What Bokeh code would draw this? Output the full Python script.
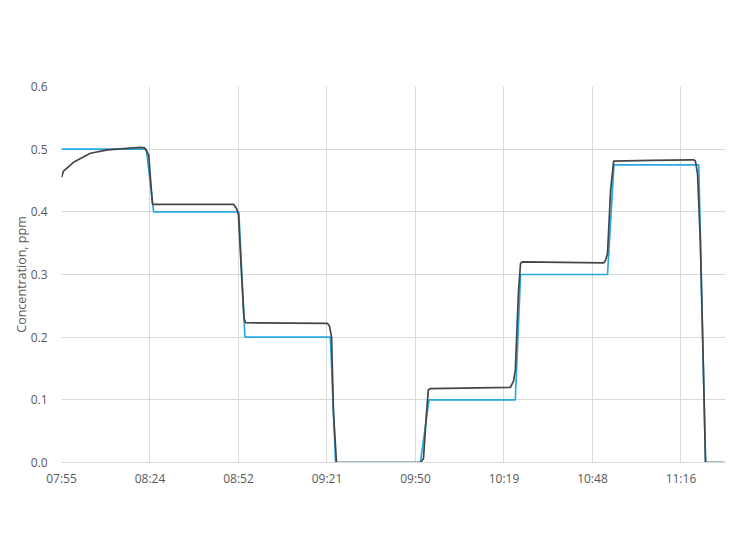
from bokeh.plotting import figure
from bokeh.models import FixedTicker, Range1d
from bokeh.embed import file_html
from bokeh.resources import INLINE

# x values: minutes after 07:55
tick_pos = [0, 28.8, 57.6, 86.4, 115.2, 144.0, 172.8, 201.6]
tick_labels = ["07:55", "08:24", "08:52", "09:21", "09:50", "10:19", "10:48", "11:16"]

t_set = [0, 27.6, 30.0, 57.7, 59.7, 87.5, 89.2, 116.8, 119.6, 147.7, 149.4,
         177.7, 179.8, 207.4, 209.6, 216.0]
v_set = [0.5, 0.5, 0.4, 0.4, 0.2, 0.2, 0.0, 0.0, 0.1, 0.1, 0.3,
         0.3, 0.475, 0.475, 0.0, 0.0]

t_meas = [0, 0.65, 3.9, 9.4, 15.0, 20.2, 25.7, 27.0, 27.7, 28.4, 29.0, 29.6, 29.9,
          56.0, 57.0, 57.6, 58.6, 59.4, 59.9, 86.6, 87.2, 87.9, 88.5, 89.5,
          116.8, 117.8, 118.8, 119.4, 120.1, 146.1, 147.1, 147.7, 148.7, 149.4, 150.0,
          176.4, 177.0, 177.7, 178.7, 179.7, 191.7, 204.7, 205.7, 206.3, 207.0, 207.9,
          208.9, 209.6, 215.4]
v_meas = [0.455, 0.465, 0.479, 0.4935, 0.499, 0.501, 0.503, 0.502, 0.497, 0.49, 0.45, 0.413, 0.412,
          0.412, 0.405, 0.395, 0.3, 0.23, 0.223, 0.222, 0.218, 0.2, 0.08, 0.0,
          0.0, 0.006, 0.08, 0.116, 0.118, 0.12, 0.13, 0.147, 0.27, 0.318, 0.32,
          0.3186, 0.322, 0.333, 0.434, 0.481, 0.482, 0.483, 0.483, 0.481, 0.461, 0.354,
          0.15, 0.0, 0.0]

p = figure(width=740, height=549, output_backend="svg", toolbar_location=None,
           x_range=Range1d(0, 216.1), y_range=Range1d(0, 0.6),
           min_border_left=61, min_border_right=15, min_border_top=86, min_border_bottom=87)
p.outline_line_color = None
p.background_fill_color = "white"
p.border_fill_color = "white"

p.line(t_set, v_set, line_color="#2aa8df", line_width=1.7)
p.line(t_meas, v_meas, line_color="#454545", line_width=1.7)

p.xaxis.ticker = FixedTicker(ticks=tick_pos)
p.xaxis.major_label_overrides = {pos: lab for pos, lab in zip(tick_pos, tick_labels)}
p.yaxis.ticker = FixedTicker(ticks=[0.0, 0.1, 0.2, 0.3, 0.4, 0.5, 0.6])
p.yaxis.major_label_overrides = {0.0: "0.0", 0.1: "0.1", 0.2: "0.2", 0.3: "0.3",
                                 0.4: "0.4", 0.5: "0.5", 0.6: "0.6"}

for ax in (p.xaxis, p.yaxis):
    ax.major_tick_line_color = None
    ax.minor_tick_line_color = None
    ax.major_label_text_font = "Open Sans"
    ax.major_label_text_font_size = "12px"
    ax.major_label_text_color = "#595959"
p.xaxis.axis_line_color = "#d9d9d9"
p.yaxis.axis_line_color = None
p.xaxis.major_label_standoff = 1
p.yaxis.major_label_standoff = 8
p.yaxis.axis_label = "Concentration, ppm"
p.yaxis.axis_label_text_font = "Open Sans"
p.yaxis.axis_label_text_font_size = "12.5px"
p.yaxis.axis_label_text_font_style = "normal"
p.yaxis.axis_label_text_color = "#595959"
p.yaxis.axis_label_standoff = -2

p.xgrid.grid_line_color = "#d9d9d9"
p.ygrid.grid_line_color = "#d9d9d9"
p.xgrid.ticker = FixedTicker(ticks=tick_pos)

open("out.html", "w").write(file_html(p, INLINE))
